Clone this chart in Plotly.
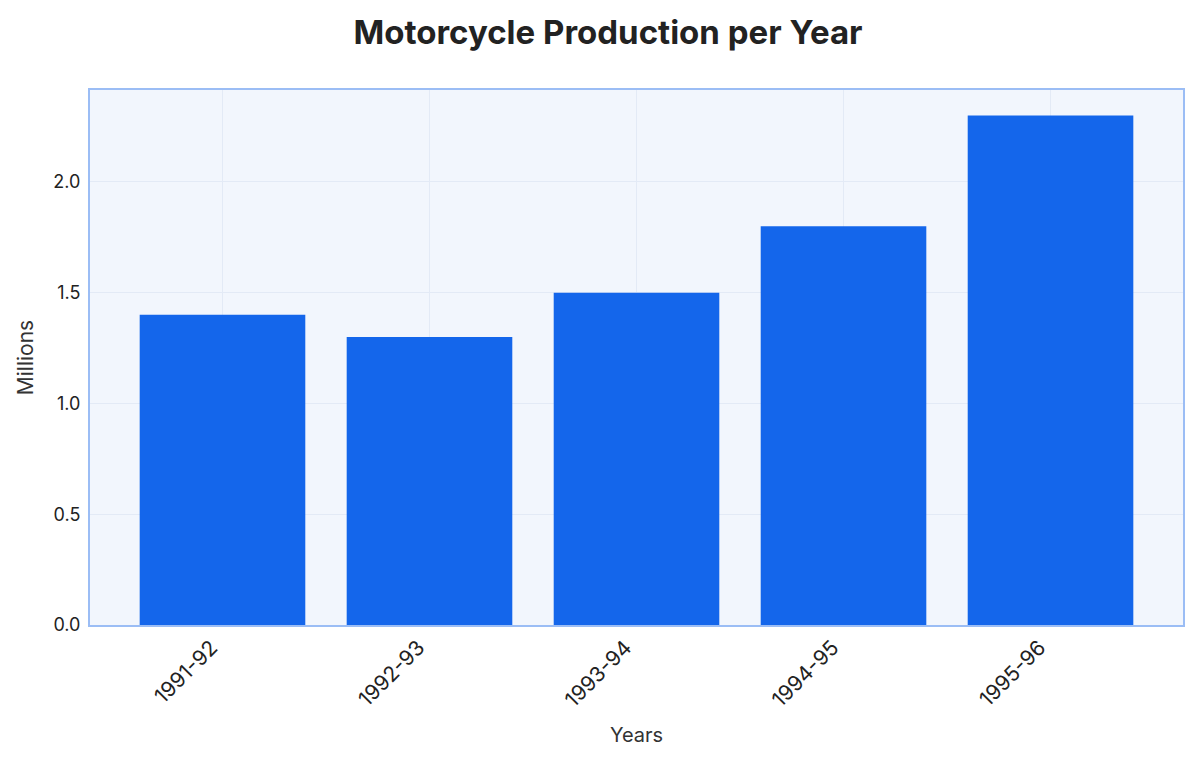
import plotly.graph_objects as go

# data
years = ["1991-92", "1992-93", "1993-94", "1994-95", "1995-96"]
production_millions = [1.4, 1.3, 1.5, 1.8, 2.3]

FONT = "Inter"
BAR_COLOR = "#1466EB"
BORDER = "#9BBDF5"
GRID = "#E3EAF6"

fig = go.Figure()
fig.add_trace(go.Bar(x=years, y=production_millions, marker=dict(color=BAR_COLOR, line=dict(width=0))))

fig.update_layout(
    width=1200, height=764,
    title=dict(text="<b>Motorcycle Production per Year</b>", x=0.5, xanchor="center",
               y=0.968, yanchor="middle", font=dict(family=FONT, size=33, color="#222222")),
    font=dict(family=FONT, size=16, color="#333333"),
    paper_bgcolor="white",
    plot_bgcolor="#F2F6FD",
    margin=dict(l=82, r=25, t=82, b=147),
    bargap=0.2,
    showlegend=False,
)
fig.update_xaxes(
    title=dict(text="Years", font=dict(size=20, color="#333333"), standoff=17),
    range=[-0.64, len(years) - 1 + 0.64],
    tickangle=-45, tickfont=dict(size=21, color="#222222"),
    ticklabelshift=-11,
    showgrid=True, gridcolor=GRID, gridwidth=1,
    showline=True, linecolor=BORDER, linewidth=2, mirror=True, ticks="",
)
fig.update_yaxes(
    title=dict(text="Millions", font=dict(size=21, color="#333333"), standoff=14),
    range=[0, 2.415], tick0=0, dtick=0.5, tickformat=".1f",
    tickfont=dict(size=18, color="#222222"),
    ticklabelstandoff=4,
    showgrid=True, gridcolor=GRID, gridwidth=1, zeroline=False,
    showline=True, linecolor=BORDER, linewidth=2, mirror=True, ticks="",
)

fig.write_html("out.html")
